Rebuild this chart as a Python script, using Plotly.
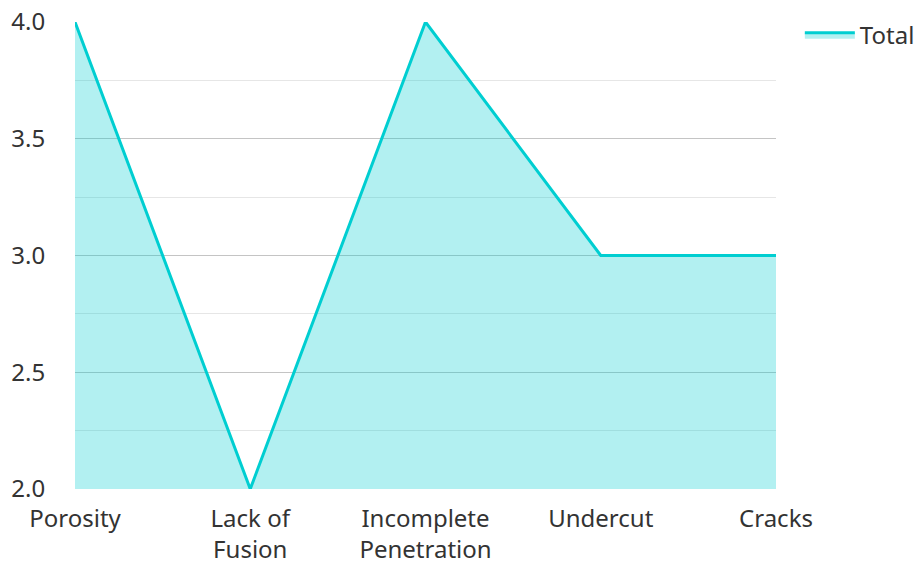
import plotly.graph_objects as go

categories = ["Porosity", "Lack of<br>Fusion", "Incomplete<br>Penetration", "Undercut", "Cracks"]
totals = [4, 2, 4, 3, 3]
y_ticks = [2.0, 2.5, 3.0, 3.5, 4.0]
y_tick_labels = ["2.0", "2.5", "3.0", "3.5", "4.0"]

fig = go.Figure()
fig.add_trace(go.Scatter(
    x=categories, y=totals, name="Total", mode="lines",
    line=dict(color="#00CED1", width=3),
    fill="tozeroy", fillcolor="rgba(0,206,209,0.3)",
))

fig.update_layout(
    width=917, height=561,
    margin=dict(l=75, r=141, t=22, b=72, autoexpand=False),
    plot_bgcolor="white", paper_bgcolor="white",
    font=dict(family="Noto Sans", size=24, color="#333"),
    showlegend=True,
    legend=dict(x=1.034, xanchor="left", y=1.02, yanchor="top", itemwidth=50,
                font=dict(size=24, color="#333"), bgcolor="rgba(0,0,0,0)"),
    xaxis=dict(range=[0, 4], showgrid=False, showline=False, zeroline=False,
               automargin=False,
               ticks="outside", ticklen=8, tickcolor="rgba(0,0,0,0)",
               tickfont=dict(size=24, color="#333")),
    yaxis=dict(range=[2, 4], tickvals=y_ticks, ticktext=y_tick_labels,
               automargin=False,
               showgrid=True, gridcolor="#c4c4c4", gridwidth=1,
               zeroline=False, showline=False,
               ticks="outside", ticklen=24, tickcolor="rgba(0,0,0,0)",
               tickfont=dict(size=24, color="#333"),
               minor=dict(dtick=0.25, showgrid=True, gridcolor="#e6e6e6", gridwidth=1, ticks="")),
)

fig.write_html("out.html")
